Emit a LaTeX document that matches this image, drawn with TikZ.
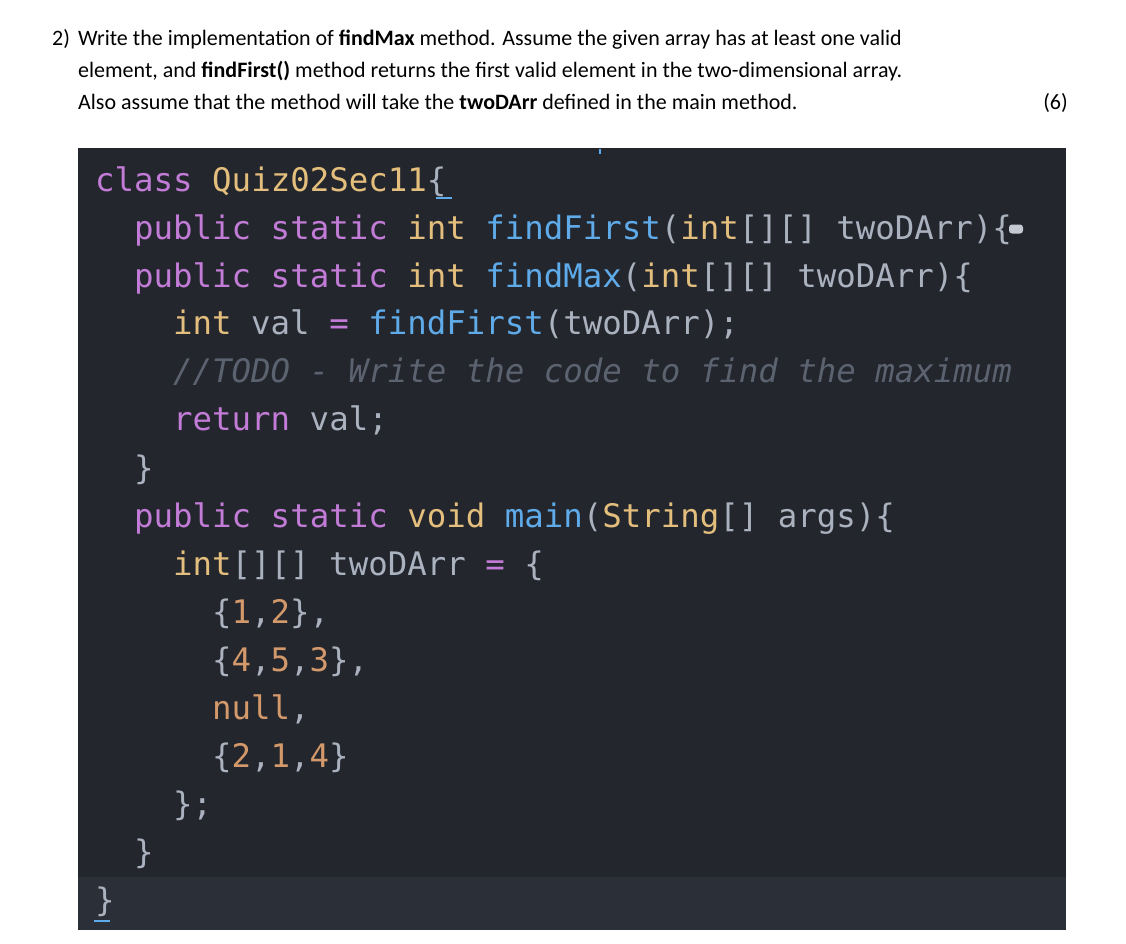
\documentclass[tikz,border=0pt]{standalone}
\usepackage{fontspec}
\setmainfont{Carlito}
\setmonofont{DejaVu Sans Mono}
\definecolor{bgc}{HTML}{23262D}
\definecolor{bgl}{HTML}{2B2F37}
\definecolor{kw}{HTML}{C27BD6}
\definecolor{ty}{HTML}{E3BE7C}
\definecolor{fn}{HTML}{5FAAE8}
\definecolor{nm}{HTML}{D4996A}
\definecolor{tx}{HTML}{ABB2BF}
\definecolor{cm}{HTML}{5C6370}
\newcommand{\K}[1]{\textcolor{kw}{#1}}
\newcommand{\T}[1]{\textcolor{ty}{#1}}
\newcommand{\F}[1]{\textcolor{fn}{#1}}
\newcommand{\N}[1]{\textcolor{nm}{#1}}
\begin{document}
\begin{tikzpicture}[x=1pt,y=-1pt,
  code/.style={anchor=base west,inner sep=0pt,font=\fontsize{32.4}{36}\ttfamily,text=tx},
  hdr/.style={anchor=base west,inner sep=0pt,font=\fontsize{22}{26}\selectfont,text=black}]
\useasboundingbox (0,0) rectangle (1126,944);
\fill[white] (0,0) rectangle (1126,944);
\fill[bgc] (78,148) rectangle (1066,930);
\fill[bgl] (78,877) rectangle (1066,930);
\draw[fn,line width=2pt] (600,149) -- (600,154);
\node[hdr] (h1n) at (52,46) {2)};
\node[hdr] (h1) at (78,46) {Write the implementation of \textbf{findMax} method. Assume the given array has at least one valid};
\node[hdr] (h2) at (78,78) {element, and \textbf{findFirst()} method returns the first valid element in the two-dimensional array.};
\node[hdr] (h3) at (78,110) {Also assume that the method will take the \textbf{twoDArr} defined in the main method.};
\node[hdr,anchor=base east] (h3r) at (1068,110) {(6)};
\def\cw{19.5}
\node[code] (l1) at (95,191) {\K{class} \T{Quiz02Sec11}\{};
\node[code] (l2) at (95+2*\cw,239) {\K{public} \K{static} \T{int} \F{findFirst}(\T{int}[][] twoDArr)\{};
\node[code] (l3) at (95+2*\cw,287) {\K{public} \K{static} \T{int} \F{findMax}(\T{int}[][] twoDArr)\{};
\node[code] (l4) at (95+4*\cw,334) {\T{int} val \K{=} \F{findFirst}(twoDArr);};
\node[code,text=cm] (l5) at (95+4*\cw,382) {\itshape //TODO - Write the code to find the maximum};
\node[code] (l6) at (95+4*\cw,430) {\K{return} val;};
\node[code] (l7) at (95+2*\cw,479) {\}};
\node[code] (l8) at (95+2*\cw,527) {\K{public} \K{static} \T{void} \F{main}(\T{String}[] args)\{};
\node[code] (l9) at (95+4*\cw,575) {\T{int}[][] twoDArr \K{=} \{};
\node[code] (l10) at (95+6*\cw,623) {\{\N{1},\N{2}\},};
\node[code] (l11) at (95+6*\cw,671) {\{\N{4},\N{5},\N{3}\},};
\node[code] (l12) at (95+6*\cw,719) {\N{null},};
\node[code] (l13) at (95+6*\cw,767) {\{\N{2},\N{1},\N{4}\}};
\node[code] (l14) at (95+4*\cw,815) {\};};
\node[code] (l15) at (95+2*\cw,863) {\}};
\node[code] (l16) at (95,911) {\}};
\draw[fn,line width=2pt] (436,198) -- (452,198);
\draw[fn,line width=2pt] (94,921) -- (110,921);
\node[fill=tx!70,rounded corners=3pt,minimum width=14pt,minimum height=9pt,inner sep=0pt] (fold) at (1016,229) {};
\end{tikzpicture}
\end{document}
